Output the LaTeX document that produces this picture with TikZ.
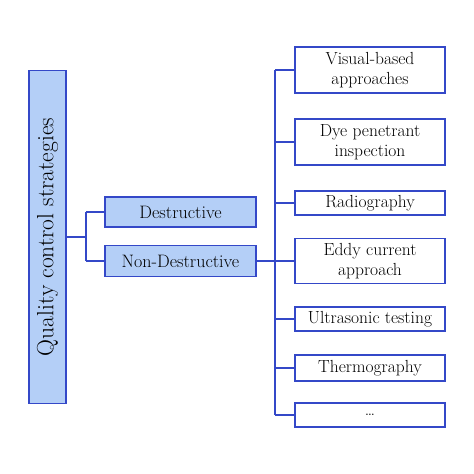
\documentclass[tikz,border=0pt]{standalone}
\usepackage{fontspec}
\usepackage{xcolor}
\usepackage{tikz}
\definecolor{Line-B}{RGB}{ 52, 72, 200}
\definecolor{Fill-B}{RGB}{180, 207, 247}
\tikzstyle{c}=[line width=1.6pt,draw=Line-B]
\tikzstyle{box}=[rectangle,draw=Line-B,line width=1.6pt,inner sep=0pt,align=center,font=\fontsize{17.5}{20}\selectfont]
\tikzstyle{filled}=[fill=Fill-B,font=\fontsize{18}{20}\selectfont]
\tikzstyle{method}=[box,fill=white,minimum width=150pt]

\begin{document}
\begin{tikzpicture}[x=1pt,y=-1pt]
\useasboundingbox (0,0) rectangle (474,474);

% Nodes
\node[box,filled,rotate=90,minimum width=333pt,minimum height=37pt,font=\fontsize{23.5}{26}\selectfont]
                          (strategies)  at (47.5,237) {Quality control strategies};
\node[box,filled,minimum width=151pt,minimum height=30pt] (destructive)    at (180.5,212) {Destructive};
\node[box,filled,minimum width=151pt,minimum height=31pt] (nondestructive) at (180.5,261) {Non-Destructive};

\node[method,minimum height=46pt] (visual)      at (370,70)  {Visual-based\\approaches};
\node[method,minimum height=46pt] (dye)         at (370,142) {Dye penetrant\\inspection};
\node[method,minimum height=24pt] (radiography) at (370,203) {Radiography};
\node[method,minimum height=45pt] (eddy)        at (370,261) {Eddy current\\approach};
\node[method,minimum height=24pt] (ultrasonic)  at (370,319) {Ultrasonic testing};
\node[method,minimum height=26pt] (thermo)      at (370,368) {Thermography};
\node[method,minimum height=24pt] (more)        at (370,415) {\dots};

\coordinate (split) at (86,237);
\coordinate (bus)   at (275,261);

% Edges
\draw[c] (strategies.south) -- (split)
         (split |- destructive.west) -- (split |- nondestructive.west)
         (split |- destructive.west) -- (destructive.west)
         (split |- nondestructive.west) -- (nondestructive.west)
         (nondestructive.east) -- (bus)
         (bus |- visual.west) -- (bus |- more.west);
\foreach \m in {visual,dye,radiography,eddy,ultrasonic,thermo,more}
  \draw[c] (bus |- \m.west) -- (\m.west);

\end{tikzpicture}
\end{document}
